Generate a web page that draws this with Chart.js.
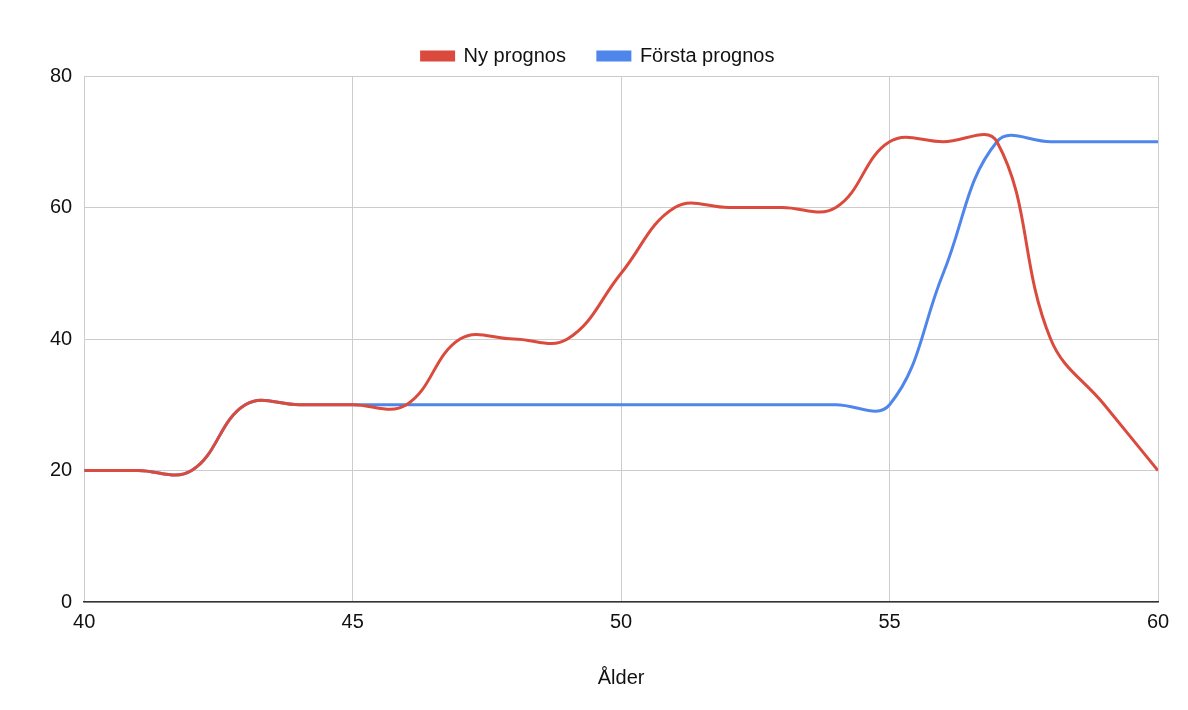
<!DOCTYPE html>
<html><head><meta charset="utf-8">
<script src="https://cdn.jsdelivr.net/npm/chart.js@4"></script>
<style>html,body{margin:0;background:#fff}#w{width:1188px;height:710px}</style>
</head><body><div id="w"><canvas id="c"></canvas></div>
<script>
const ages=[40,41,42,43,44,45,46,47,48,49,50,51,52,53,54,55,56,57,58,59,60];
const first=[20,20,20,30,30,30,30,30,30,30,30,30,30,30,30,30,50,70,70,70,70];
const nyprog=[20,20,20,30,30,30,30,40,40,40,50,60,60,60,60,70,70,70,40,30,20];
const pts=a=>ages.map((x,i)=>({x:x,y:a[i]}));
Chart.defaults.font.family='"Liberation Sans", Arial, sans-serif';
Chart.defaults.color='#111';
new Chart(document.getElementById('c'),{type:'line',
data:{datasets:[
{label:'Första prognos',order:1,data:pts(first),borderColor:'#4f86ec',backgroundColor:'#4f86ec',borderWidth:3,pointRadius:0,tension:0.4},
{label:'Ny prognos',order:0,data:pts(nyprog),borderColor:'#db4b3d',backgroundColor:'#db4b3d',borderWidth:3,pointRadius:0,tension:0.4}]},
options:{responsive:true,maintainAspectRatio:false,animation:false,
layout:{padding:{left:38,right:30,top:14,bottom:16}},
plugins:{legend:{position:'top',labels:{boxWidth:32,boxHeight:8,font:{size:20},padding:32}},tooltip:{enabled:false}},
scales:{
x:{type:'linear',min:40,max:60,ticks:{stepSize:5,font:{size:20},padding:8},
 grid:{color:'#ccc',drawTicks:false},border:{color:'#333',width:1.5},
 title:{display:true,text:'Ålder',font:{size:20},padding:{top:24}}},
y:{min:0,max:80,ticks:{stepSize:20,font:{size:20},padding:12},
 grid:{color:'#ccc',drawTicks:false},border:{display:false}}}}});
</script></body></html>
